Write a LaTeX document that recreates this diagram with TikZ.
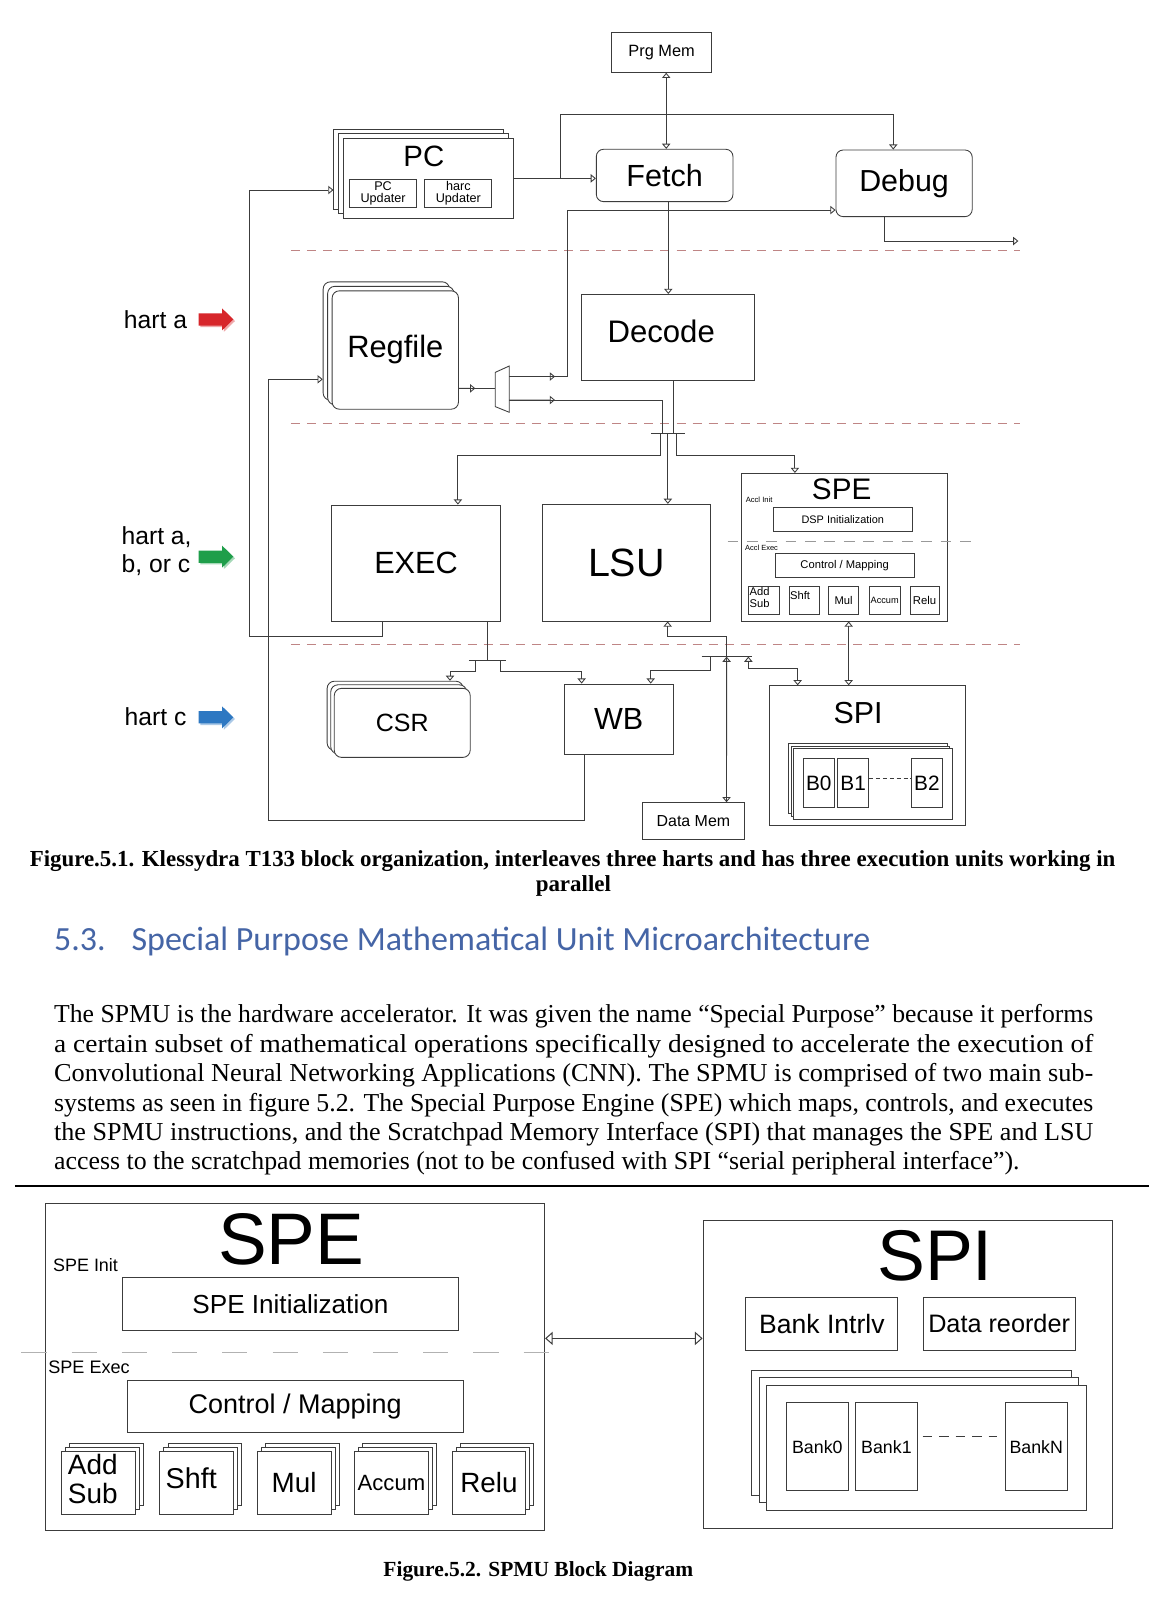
\documentclass[tikz,border=0pt]{standalone}
\usepackage{fontspec}
\setmainfont{Liberation Serif}
\setsansfont{Liberation Sans}
\newfontfamily\headfont{Carlito}
\usepackage{graphicx}
\usetikzlibrary{arrows.meta,shadows,calc}

\newlength{\pxu}
\setlength{\pxu}{0.025cm}
\newcommand{\fsz}[2]{\fontsize{#1}{#2}\selectfont}

\definecolor{wirecol}{HTML}{3C3C3C}
\definecolor{stagecol}{HTML}{BF8585}
\definecolor{headblue}{HTML}{4565A6}
\definecolor{hartred}{HTML}{D7262B}
\definecolor{hartgreen}{HTML}{1F9E4A}
\definecolor{hartblue}{HTML}{2E78C2}

\tikzset{
  blk/.style={draw=wirecol, line width=0.6pt, fill=white, inner sep=0pt, font=\sffamily},
  rblk/.style={blk, rounded corners=5pt},
  wh/.style 2 args={minimum width=#1\pxu, minimum height=#2\pxu},
  stackof/.style n args={4}{
    copy shadow={shadow xshift=#1\pxu, shadow yshift=#2\pxu, opacity=1, draw=wirecol, fill=white, line width=0.6pt},
    copy shadow={shadow xshift=#3\pxu, shadow yshift=#4\pxu, opacity=1, draw=wirecol, fill=white, line width=0.6pt}},
  lbl/.style={inner sep=0pt, font=\sffamily},
  txt/.style={inner sep=0pt, font=\rmfamily},
  wire/.style={draw=wirecol, line width=0.6pt},
  >={Triangle[open, length=3.6pt, width=5.8pt]},
  stageline/.style={draw=stagecol, line width=0.9pt, dash pattern=on 6.3pt off 4.9pt},
  spedash/.style={draw=black!40, line width=0.6pt, dash pattern=on 7.5pt off 6pt},
  bigdash/.style={draw=black!30, line width=0.8pt, dash pattern=on 17.5pt off 17.5pt},
  bigarrow/.style={wire, line width=0.7pt, {Triangle[open, length=5.3pt, width=9.2pt]}-{Triangle[open, length=5.3pt, width=9.2pt]}},
  hartarrow/.pic={
    \fill[#1!40] (1.6,-4.4) -- (24.6,-4.4) -- (24.6,-9.1) -- (35.6,1.6) -- (24.6,12.3) -- (24.6,7.6) -- (1.6,7.6) -- cycle;
    \fill[#1] (0,-6) -- (23,-6) -- (23,-10.7) -- (34,0) -- (23,10.7) -- (23,6) -- (0,6) -- cycle;
  }
}

\begin{document}
\begin{tikzpicture}[x=0.025cm, y=-0.025cm]
\useasboundingbox (0,0) rectangle (1132.9,1568);
\fill[white] (0,0) rectangle (1132.9,1568);

%%% Figure 5.1: fetch stage
\node[blk, wh={98}{39.2}, font=\sffamily\fsz{11.4}{13}] (prgmem) at (648.4,51.3) {Prg Mem};
\node[rblk, wh={133.9}{51.3}, font=\sffamily\fsz{21.3}{25}] (fetch) at (651.35,171.95) {Fetch};
\node[rblk, wh={133.5}{65.3}, font=\sffamily\fsz{21.2}{25}] (debug) at (886,179.65) {Debug};
\node[blk, wh={166.5}{78.4}, stackof={-9.2}{9.2}{-4.6}{4.6}] (pc) at (419.65,174.8) {};
\node[lbl, font=\sffamily\fsz{20.5}{24}] (pclbl) at (415.4,153.5) {PC};
\node[blk, wh={65}{27.4}, align=center, font=\sffamily\fsz{8.8}{8.8}] (pcupd) at (375.4,189.4) {PC\\Updater};
\node[blk, wh={65.5}{27.4}, align=center, font=\sffamily\fsz{8.8}{8.8}] (harcupd) at (449.15,189.4) {harc\\Updater};

%%% decode stage
\node[rblk, wh={123.8}{116}, stackof={-8.8}{8.8}{-4.4}{4.4}, font=\sffamily\fsz{21.5}{25}] (regfile) at (387.4,343) {Regfile};
\node[blk, wh={169.4}{83.9}] (decode) at (654.3,330.45) {};
\node[lbl, font=\sffamily\fsz{21.7}{25}] (decodelbl) at (648,325) {Decode};
\draw[wire, fill=white] (485.4,364.9) -- (499,358.7) -- (499,404) -- (485.4,398.5) -- cycle;
\coordinate (muxin) at (485.4,380.6);
\coordinate (muxo1) at (499,369);
\coordinate (muxo2) at (499,392);
\coordinate (dbgj) at (556,369);
\coordinate (bus1) at (654.5,424.7);
\coordinate (muxbus) at (649.4,424.7);

%%% execute stage
\node[blk, wh={165.7}{114.3}, font=\sffamily\fsz{21.4}{25}] (exec) at (407.75,552.05) {EXEC};
\node[blk, wh={165.2}{114.4}, font=\sffamily\fsz{27.5}{32}] (lsu) at (613.9,551.4) {LSU};
\node[blk, wh={201.9}{144.7}] (spe) at (827.75,536.25) {};
\node[lbl, font=\sffamily\fsz{20.7}{24}] (spelbl) at (824.85,479) {SPE};
\node[lbl, anchor=west, font=\sffamily\fsz{5.3}{6}] (acclinit) at (730.6,490) {Accl Init};
\node[blk, wh={136.1}{22.9}, font=\sffamily\fsz{7.6}{9}] (dspinit) at (825.95,508.95) {DSP Initialization};
\draw[spedash] (713,530.2) -- (956,530.2);
\node[lbl, anchor=west, font=\sffamily\fsz{5.2}{6}] (acclexec) at (730,536.4) {Accl Exec};
\node[blk, wh={136.5}{23.5}, font=\sffamily\fsz{7.8}{9}] (ctrlmap) at (827.75,554.05) {Control / Mapping};
\node[blk, wh={30.1}{27.8}] (addsub) at (748.75,588.2) {};
\node[lbl, anchor=west, align=left, font=\sffamily\fsz{7.8}{9}] (addsublbl) at (734.3,585.5) {Add\\Sub};
\node[blk, wh={29.4}{27.8}] (shft) at (788,588.2) {};
\node[lbl, anchor=west, font=\sffamily\fsz{7.8}{9}] (shftlbl) at (774,584) {Shft};
\node[blk, wh={29.4}{27.8}, font=\sffamily\fsz{7.8}{9}] (mul) at (826.8,588.2) {Mul};
\node[blk, wh={30}{27.8}, font=\sffamily\fsz{6.4}{8}] (accum) at (867,588.2) {Accum};
\node[blk, wh={28.7}{27.8}, font=\sffamily\fsz{7.9}{9}] (relu) at (906.15,588.2) {Relu};

%%% write back stage
\node[rblk, wh={133.2}{67.6}, stackof={-7}{7}{-3.5}{3.5}, font=\sffamily\fsz{17.4}{20}] (csr) at (394.2,708.4) {CSR};
\node[blk, wh={107.3}{69}, font=\sffamily\fsz{21.3}{25}] (wb) at (606.35,704.8) {WB};
\node[blk, wh={192.3}{136.5}] (spi) at (850.45,740.25) {};
\node[lbl, font=\sffamily\fsz{21.2}{25}] (spilbl) at (841,698.4) {SPI};
\node[blk, wh={155.7}{68.9}, stackof={-5}{5}{-2.5}{2.5}] (bnkstk) at (855.55,768.15) {};
\node[blk, wh={30.5}{48}, font=\sffamily\fsz{14.5}{17}] (bzero) at (802.35,767.2) {B0};
\node[blk, wh={30.4}{48}, font=\sffamily\fsz{14.5}{17}] (bone) at (836.1,767.2) {B1};
\node[blk, wh={29.6}{48}, font=\sffamily\fsz{14.5}{17}] (btwo) at (908.4,767.2) {B2};
\draw[wire, dash pattern=on 3pt off 1.8pt] ([yshift=4.4\pxu]bone.east) -- ([yshift=4.4\pxu]bone.east -| btwo.west);
\node[blk, wh={99.9}{36.4}, font=\sffamily\fsz{11.1}{13}] (datamem) at (679.55,804.8) {Data Mem};
\coordinate (bus2) at (477.75,647.4);
\coordinate (bus3) at (712.1,643.5);

%%% pipeline stage borders
\draw[stageline] (285,245.5) -- (1000,245.5);
\draw[stageline] (285,414.9) -- (1000,414.9);
\draw[stageline] (285,631.7) -- (1000,631.7);

%%% harts
\node[lbl, anchor=east, font=\sffamily\fsz{17.2}{20}] (harta) at (183.6,313) {hart a};
\pic at (194.7,313) {hartarrow=hartred};
\node[lbl, anchor=west, align=left, font=\sffamily\fsz{17.2}{19.7}] (hartabc) at (118.9,540) {hart a,\\b, or c};
\pic at (194.7,545.5) {hartarrow=hartgreen};
\node[lbl, anchor=east, font=\sffamily\fsz{17.2}{20}] (hartc) at (183,702.3) {hart c};
\pic at (194.7,703) {hartarrow=hartblue};

%%% connections
\draw[wire, <->] ([xshift=4.5\pxu]prgmem.south) -- ([xshift=4.5\pxu]prgmem.south |- fetch.north);
\draw[wire, ->] (pc.east) -- (pc.east -| fetch.west);
\coordinate (pcj) at (549.4,174.8);
\draw[wire, ->] (pcj) -- ++(0,-62.8) -| ([xshift=-10.6\pxu]debug.north);
\draw[wire, ->] ([xshift=3.6\pxu]fetch.south) -- ([xshift=3.6\pxu]fetch.south |- decode.north);
\coordinate (dbgout) at (998,236.2);
\draw[wire, ->] ([xshift=-19.1\pxu]debug.south) |- (dbgout);
\coordinate (pcfb) at (244.4,624);
\draw[wire, ->] ([xshift=-33.2\pxu]exec.south) |- (pcfb) |- ([shift={(-9.2,11.4)}]pc.west);
\coordinate (wbret) at (263.4,803.6);
\draw[wire, ->] ([xshift=-34\pxu]wb.south) |- (wbret) |- ([shift={(-8.8,28.7)}]regfile.west);
% regfile -> mux -> bus
\draw[wire] (regfile.east |- muxin) -- (muxin);
\draw[wire, ->] (regfile.east |- muxin) -- ($(regfile.east |- muxin)!0.45!(muxin)$);
\draw[wire, ->] (muxo1) -- (dbgj) |- ([yshift=-26.2\pxu]debug.west);
\draw[wire, ->] (muxo1) -- ($(muxo1)!0.788!(dbgj)$);
\draw[wire] (muxo2) -| (muxbus);
\draw[wire, ->] (muxo2) -- ($(muxo2)!0.2985!(muxo2 -| muxbus)$);
\draw[wire] ([xshift=5.6\pxu]decode.south) -- ([xshift=5.6\pxu]decode.south |- bus1);
\draw[wire] ([xshift=-16.5\pxu]bus1) -- ([xshift=16.5\pxu]bus1);
\draw[wire, ->] ([xshift=-7.7\pxu]bus1) -- ++(0,21.3) -| ([xshift=41\pxu]exec.north);
\draw[wire, ->] (bus1) -- (bus1 |- lsu.north);
\draw[wire, ->] ([xshift=8\pxu]bus1) -- ++(0,21.3) -| ([xshift=-48.75\pxu]spe.north);
% exec -> csr / wb
\draw[wire] ([xshift=70\pxu]exec.south) -- (bus2);
\draw[wire] ([xshift=-18.15\pxu]bus2) -- ([xshift=18.15\pxu]bus2);
\draw[wire, ->] ([xshift=-11.95\pxu]bus2) -- ++(0,10.8) -| ([shift={(46.8,-7)}]csr.north);
\draw[wire, ->] ([xshift=12.25\pxu]bus2) -- ++(0,10.8) -| ([xshift=-36.35\pxu]wb.north);
% lsu / data mem / spi
\draw[wire] ([xshift=-24.5\pxu]bus3) -- ([xshift=24.5\pxu]bus3);
\draw[wire, ->] ([xshift=32.45\pxu]datamem.north) -- ++(0,-162) -| ([xshift=40.4\pxu]lsu.south);
\draw[wire, <->] (bus3) -- ([xshift=32.45\pxu]datamem.north);
\draw[wire, ->] ([xshift=-16.3\pxu]bus3) -- ++(0,13.1) -| ([xshift=31.35\pxu]wb.north);
\draw[wire, <->] ([xshift=21.3\pxu]bus3) -- ++(0,11.5) -| ([xshift=-68.75\pxu]spi.north);
\draw[wire, <->] ([xshift=3.95\pxu]spe.south) -- ([xshift=3.95\pxu]spe.south |- spi.north);

%%% caption, heading and text
\node[txt, anchor=base west, font=\rmfamily\bfseries\fsz{16}{19}] (capone) at (28.9,849.3) {\resizebox{1063.8\pxu}{\height}{Figure.5.1. Klessydra T133 block organization, interleaves three harts and has three execution units working in}};
\node[txt, anchor=base, font=\rmfamily\bfseries\fsz{16}{19}] (caponeb) at (561.9,873.8) {parallel};
\node[txt, anchor=base west, text=headblue, font=\headfont\fsz{23.6}{28}] (secnum) at (52.8,931.6) {5.3.};
\node[txt, anchor=base west, text=headblue, font=\headfont\fsz{23.6}{28}] (sectitle) at (128.7,931.6) {\resizebox{724\pxu}{\height}{Special Purpose Mathematical Unit Microarchitecture}};
\node[txt, anchor=base west, font=\rmfamily\fsz{18}{21}] (parone) at (52.8,1002) {\resizebox{1018.3\pxu}{\height}{The SPMU is the hardware accelerator. It was given the name “Special Purpose” because it performs}};
\node[txt, anchor=base west, font=\rmfamily\fsz{18}{21}] (partwo) at (52.8,1031) {\resizebox{1018.3\pxu}{\height}{a certain subset of mathematical operations specifically designed to accelerate the execution of}};
\node[txt, anchor=base west, font=\rmfamily\fsz{18}{21}] (parthree) at (52.8,1060) {\resizebox{1018.3\pxu}{\height}{Convolutional Neural Networking Applications (CNN). The SPMU is comprised of two main sub-}};
\node[txt, anchor=base west, font=\rmfamily\fsz{18}{21}] (parfour) at (52.8,1089) {\resizebox{1018.3\pxu}{\height}{systems as seen in figure 5.2. The Special Purpose Engine (SPE) which maps, controls, and executes}};
\node[txt, anchor=base west, font=\rmfamily\fsz{18}{21}] (parfive) at (52.8,1117.5) {\resizebox{1018.3\pxu}{\height}{the SPMU instructions, and the Scratchpad Memory Interface (SPI) that manages the SPE and LSU}};
\node[txt, anchor=base west, font=\rmfamily\fsz{18}{21}] (parsix) at (52.8,1146) {access to the scratchpad memories (not to be confused with SPI “serial peripheral interface”).};
\draw[line width=1.4pt] (14.5,1162.6) -- (1126.5,1162.6);

%%% Figure 5.2: SPE
\node[blk, line width=0.7pt, wh={489.5}{320.1}] (spebig) at (288.95,1339.35) {};
\node[lbl, font=\sffamily\fsz{50.9}{58}] (spebiglbl) at (285.5,1214.4) {SPE};
\node[lbl, anchor=west, font=\sffamily\fsz{12.5}{15}] (speinitlbl) at (51.8,1239.7) {SPE Init};
\node[blk, line width=0.7pt, wh={330}{52.3}, font=\sffamily\fsz{18.2}{21}] (speinit) at (284.6,1277.95) {SPE Initialization};
\draw[bigdash] (21,1325.6) -- (558,1325.6);
\node[lbl, anchor=west, font=\sffamily\fsz{12.6}{15}] (speexeclbl) at (47.1,1340) {SPE Exec};
\node[blk, line width=0.7pt, wh={329.2}{51}, font=\sffamily\fsz{18.8}{22}] (ctrlmapbig) at (289.3,1378.5) {Control / Mapping};
\node[blk, wh={71.8}{61.1}, stackof={8}{8}{4}{4}] (addsubbig) at (96.4,1453.15) {};
\node[lbl, anchor=west, align=left, font=\sffamily\fsz{19.5}{19.8}] (addsubbiglbl) at (66.3,1449.6) {Add\\Sub};
\node[blk, wh={71.8}{61.1}, stackof={8}{8}{4}{4}] (shftbig) at (192.5,1453.15) {};
\node[lbl, anchor=west, font=\sffamily\fsz{20}{23}] (shftbiglbl) at (162.1,1448.8) {Shft};
\node[blk, wh={72.5}{61.1}, stackof={8}{8}{4}{4}, font=\sffamily\fsz{19.4}{23}] (mulbig) at (288.25,1453.15) {Mul};
\node[blk, wh={72.6}{61.1}, stackof={8}{8}{4}{4}, font=\sffamily\fsz{15.4}{18}] (accumbig) at (383.6,1453.15) {Accum};
\node[blk, wh={71.4}{61.1}, stackof={8}{8}{4}{4}, font=\sffamily\fsz{19.4}{23}] (relubig) at (479.1,1453.15) {Relu};

%%% Figure 5.2: SPI
\node[blk, line width=0.7pt, wh={400.8}{301.7}] (spibig) at (889.4,1347.15) {};
\node[lbl, font=\sffamily\fsz{50}{58}] (spibiglbl) at (916.35,1230.4) {SPI};
\node[blk, line width=0.7pt, wh={149}{51.6}, font=\sffamily\fsz{18.5}{22}] (bankintrlv) at (805.5,1297.2) {Bank Intrlv};
\node[blk, line width=0.7pt, wh={149.1}{51.6}, font=\sffamily\fsz{17.6}{22}] (datareorder) at (979.15,1297.2) {Data reorder};
\node[blk, wh={313.3}{122.5}, stackof={-14.8}{14}{-7.4}{7}] (bankstk) at (907.95,1418.55) {};
\node[blk, wh={60.4}{86.3}, font=\sffamily\fsz{12.4}{15}] (bankzero) at (801,1417.75) {Bank0};
\node[blk, wh={60.6}{86.3}, font=\sffamily\fsz{12.4}{15}] (bankone) at (868.7,1417.75) {Bank1};
\node[blk, wh={60.5}{86.3}, font=\sffamily\fsz{12.4}{15}] (bankn) at (1015.55,1417.75) {BankN};
\draw[wire, dash pattern=on 6.5pt off 5pt] ([shift={(4.8,-9.75)}]bankone.east) -- ([shift={(-7.7,-9.75)}]bankn.west);
\draw[bigarrow] ([yshift=27.75\pxu]spebig.east) -- ([yshift=27.75\pxu]spebig.east -| spibig.west);
\node[txt, anchor=base, font=\rmfamily\bfseries\fsz{15}{18}] (captwo) at (527.55,1544.5) {\resizebox{303.5\pxu}{\height}{Figure.5.2. SPMU Block Diagram}};
\end{tikzpicture}
\end{document}
